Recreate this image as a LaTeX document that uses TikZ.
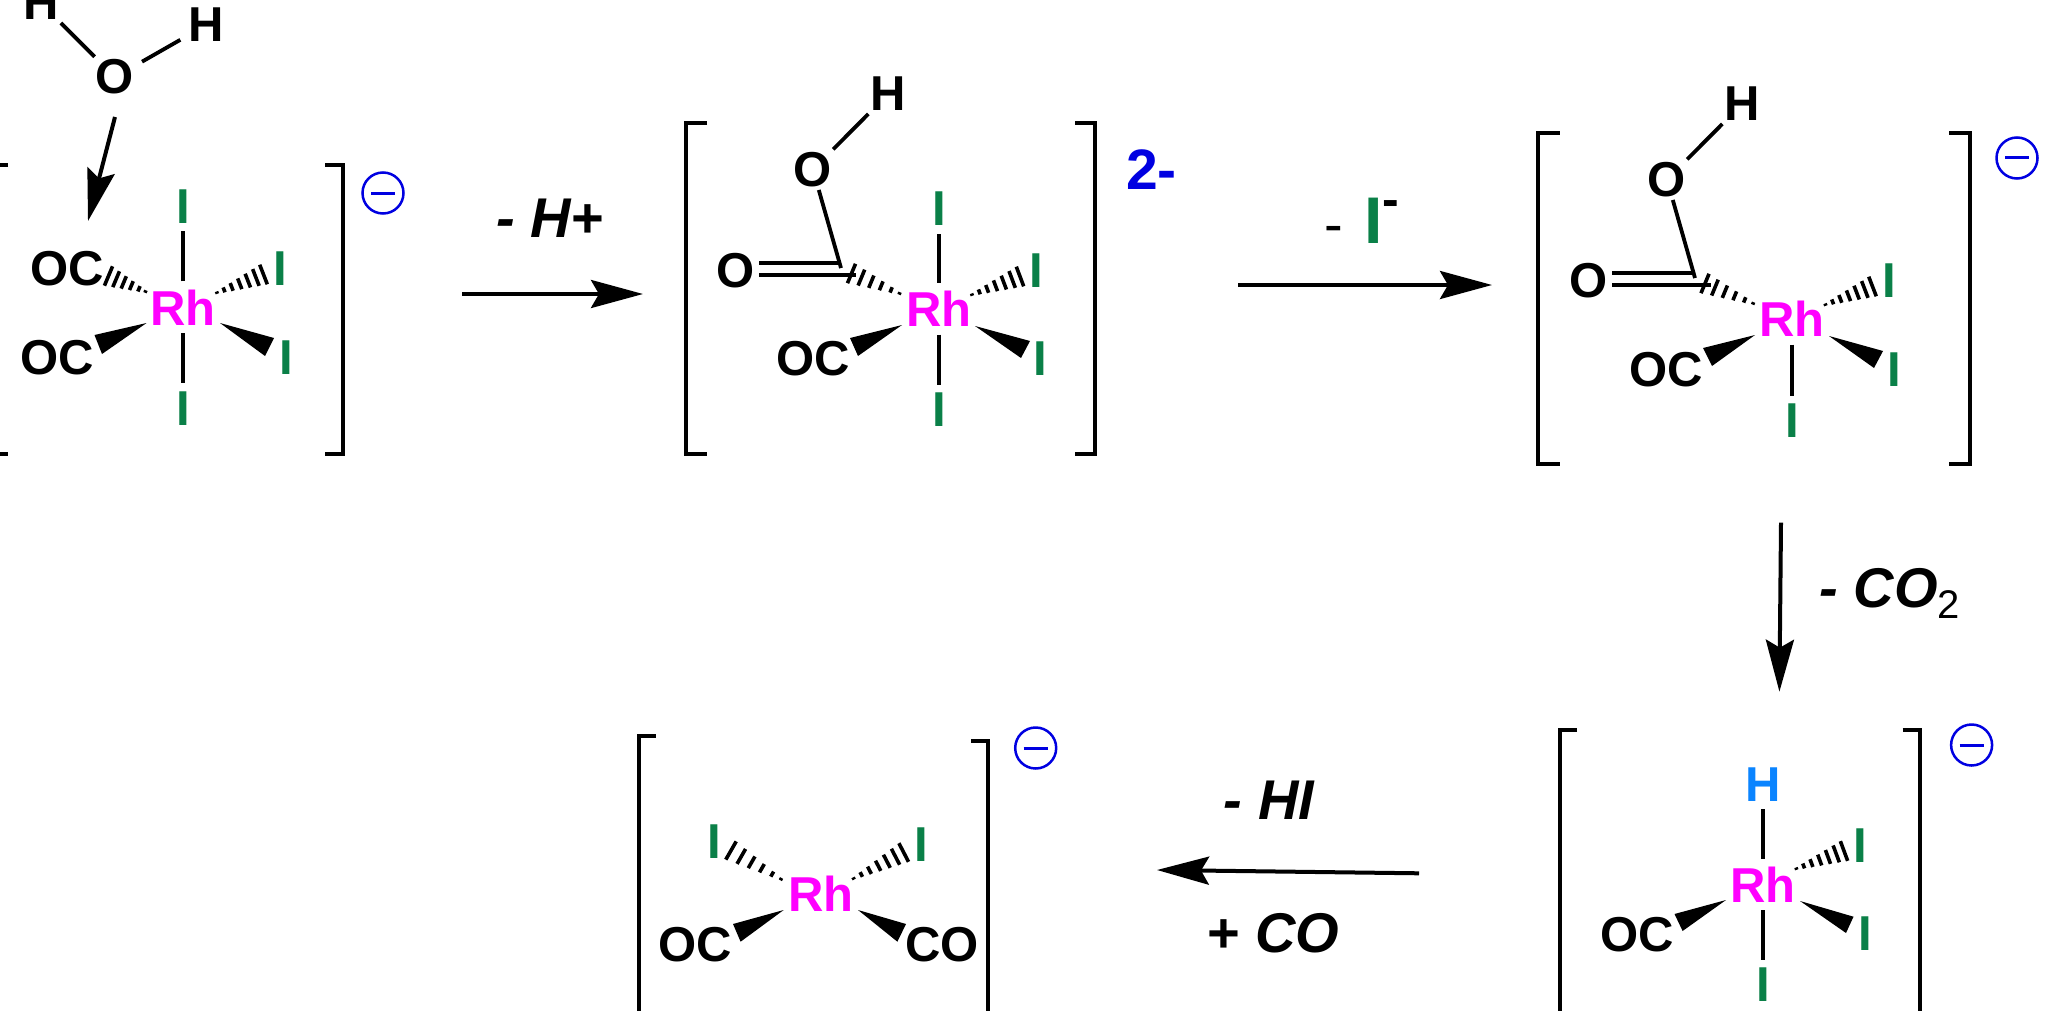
\documentclass[tikz,border=0pt]{standalone}
\usepackage{fontspec}
\setmainfont{Liberation Sans}
\usetikzlibrary{calc,arrows.meta}
\definecolor{igreen}{RGB}{10,128,72}
\definecolor{hblue}{RGB}{10,132,255}
\definecolor{cblue}{RGB}{0,0,225}
\definecolor{rhmag}{RGB}{255,0,255}
\newcommand{\hashb}[4]{%
  \coordinate (hA) at (#1);\coordinate (hB) at (#2);
  \coordinate (hC) at ($(hA)!1.5!(hB)$);
  \foreach \tt in {#4}{%
    \pgfmathsetmacro{\hh}{\tt*#3+0.5}
    \pgfmathsetmacro{\ss}{\tt/1.5}
    \draw[hashl] ($(hA)!\ss!(hC)!\hh pt!90:(hC)$) -- ($(hA)!\ss!(hC)!\hh pt!-90:(hC)$);
  }%
}
\newcommand{\chg}[3]{%
  \node[chgc] (#1) at (#2,#3) {};
  \draw[chgm] ([xshift=-6pt]#1.center) -- ([xshift=6pt]#1.center);
}
\tikzset{
  txt/.style={inner sep=0pt,outer sep=4pt,anchor=base,font=\fontsize{24.5}{24.5}\selectfont\bfseries},
  atom/.style={txt,text=black,outer xsep=4pt,outer ysep=1.5pt},
  metal/.style={txt,text=rhmag},
  iod/.style={txt,text=igreen},
  hyd/.style={txt,text=hblue},
  lab/.style={inner sep=0pt,anchor=base,font=\fontsize{28}{28}\selectfont\bfseries\itshape},
  bond/.style={draw=black,line width=1.9pt},
  hashl/.style={draw=black,line width=1.8pt},
  wedg/.style={fill=black},
  brk/.style={draw=black,line width=2pt,miter limit=10},
  rx/.style={draw=black,line width=2pt,-{Stealth[length=26pt,width=14pt,inset=4pt]}},
  chgc/.style={circle,draw=cblue,line width=1.25pt,minimum size=20.5pt,inner sep=0pt},
  chgm/.style={draw=cblue,line width=1.5pt},
}
\begin{document}
\begin{tikzpicture}[x=0.5pt,y=-0.5pt]
\useasboundingbox (0,0) rectangle (2056,1011);
\clip (0,0) rectangle (2056,1011);
\fill[white] (0,0) rectangle (2056,1011);

%% water + complex 1
\node[atom] (Ha) at (41,20) {H};
\node[atom] (Hb) at (206,42) {H};
\node[atom] (Ow) at (115,94) {O};
\draw[bond] (Ow) -- (Ha);
\draw[bond] (Ow) -- (Hb);
\coordinate (naS) at (115,117);
\coordinate (naE) at (88,221);
\draw[rx] (naS) -- (naE);
\node[metal] (Rh1) at (183,325) {Rh};
\node[iod] (I1t) at (183,223) {I};
\node[iod] (I1b) at (183,425) {I};
\node[iod] (I1u) at (280.5,285) {I};
\node[iod] (I1l) at (286,374) {I};
\node[atom] (OC1u) at (67,285.5) {OC};
\node[atom] (OC1l) at (57,374.5) {OC};
\draw[bond] (Rh1) -- (I1t);
\draw[bond] (Rh1) -- (I1b);
\hashb{146.6,292}{108.5,276}{4.75}{0.03,0.2,0.4,0.6,0.8,1}
\hashb{216,293}{263.5,274.5}{4.75}{0.02,0.17,0.33,0.5,0.67,0.84,1}
\fill[wedg] (146.6,323) -- (94.5,335) -- (102,354) -- cycle;
\fill[wedg] (220,323) -- (274,338) -- (265,356) -- cycle;
\draw[brk] (8,165) -- (-20,165) -- (-20,454) -- (8,454);
\draw[brk] (325,165) -- (342.6,165) -- (342.6,454) -- (325,454);
\chg{q1}{383}{193}

%% arrow 1
\coordinate (r1S) at (462,294);
\coordinate (r1E) at (643,294);
\draw[rx] (r1S) -- (r1E);
\node[lab] (L1) at (550,237) {- H+};

%% complex 2
\node[atom] (H2) at (888,111) {H};
\node[atom] (O2a) at (813,186.5) {O};
\node[atom] (O2b) at (736,287) {O};
\coordinate (C2) at (841,268);
\coordinate (D2a) at (759,262.7);
\coordinate (D2b) at (841,262.7);
\coordinate (D2c) at (759,275);
\coordinate (D2d) at (856,275);
\draw[bond] (O2a) -- (H2);
\draw[bond] (O2a) -- (C2);
\draw[bond] (D2a) -- (D2b);
\draw[bond] (D2c) -- (D2d);
\node[metal] (Rh2) at (939,326.5) {Rh};
\node[iod] (I2t) at (939,225.7) {I};
\node[iod] (I2b) at (939,426.7) {I};
\node[iod] (I2u) at (1036,287) {I};
\node[iod] (I2l) at (1040.5,375) {I};
\node[atom] (OC2) at (813,375.5) {OC};
\draw[bond] (Rh2) -- (I2t);
\draw[bond] (Rh2) -- (I2b);
\hashb{901,294}{851.5,273.5}{4.75}{0.03,0.2,0.4,0.6,0.8,1}
\hashb{971,295}{1020,276.5}{4.75}{0.02,0.17,0.33,0.5,0.67,0.84,1}
\fill[wedg] (902,325) -- (850,338) -- (858,356) -- cycle;
\fill[wedg] (975,326) -- (1030,341) -- (1021,358) -- cycle;
\draw[brk] (707,123) -- (686,123) -- (686,454) -- (707,454);
\draw[brk] (1075,123) -- (1095,123) -- (1095,454) -- (1075,454);
\node[lab,font=\fontsize{28.5}{28.5}\selectfont\bfseries,text=cblue] (Q2) at (1151.5,190) {2-};

%% arrow 2
\coordinate (r2S) at (1238,285);
\coordinate (r2E) at (1492,285);
\draw[rx] (r2S) -- (r2E);
\node[lab,font=\fontsize{28}{28}\selectfont] (L2a) at (1334.3,243) {-};
\node[lab,font=\fontsize{33}{33}\selectfont\bfseries,text=igreen] (L2b) at (1374,243) {I};
\node[lab,font=\fontsize{25}{25}\selectfont\bfseries] (L2c) at (1391,216.5) {-};

%% complex 3
\node[atom] (H3) at (1742,121) {H};
\node[atom] (O3a) at (1667,196.5) {O};
\node[atom] (O3b) at (1589,297) {O};
\coordinate (C3) at (1695,278);
\coordinate (D3a) at (1612,272.7);
\coordinate (D3b) at (1695,272.7);
\coordinate (D3c) at (1612,285);
\coordinate (D3d) at (1711,285);
\draw[bond] (O3a) -- (H3);
\draw[bond] (O3a) -- (C3);
\draw[bond] (D3a) -- (D3b);
\draw[bond] (D3c) -- (D3d);
\node[metal] (Rh3) at (1792,336.5) {Rh};
\node[iod] (I3b) at (1792,437.7) {I};
\node[iod] (I3u) at (1889,297) {I};
\node[iod] (I3l) at (1894.5,386) {I};
\node[atom] (OC3) at (1666,386) {OC};
\draw[bond] (Rh3) -- (I3b);
\hashb{1754.6,304}{1705,283.5}{4.75}{0.03,0.2,0.4,0.6,0.8,1}
\hashb{1824.5,305}{1872.5,286.5}{4.75}{0.02,0.17,0.33,0.5,0.67,0.84,1}
\fill[wedg] (1755,335) -- (1703,348) -- (1712,366) -- cycle;
\fill[wedg] (1829,336) -- (1883,351) -- (1874,368) -- cycle;
\draw[brk] (1559.6,133) -- (1538,133) -- (1538,464) -- (1559.6,464);
\draw[brk] (1949,133) -- (1970,133) -- (1970,464) -- (1949,464);
\chg{q3}{2017}{158}

%% arrow 3
\coordinate (r3S) at (1781,522.7);
\coordinate (r3E) at (1779.4,691.7);
\draw[rx] (r3S) -- (r3E);
\node[lab,anchor=base west] (L3) at (1819,607) {- CO\raisebox{-5.5pt}{\fontsize{20}{20}\selectfont\mdseries\upshape 2}};

%% complex 4
\node[hyd] (H4) at (1763,801) {H};
\node[metal] (Rh4) at (1763,902) {Rh};
\node[iod] (I4b) at (1763,1001.5) {I};
\node[iod] (I4u) at (1860,862) {I};
\node[iod] (I4l) at (1865,950.7) {I};
\node[atom] (OC4) at (1637.5,951) {OC};
\draw[bond] (Rh4) -- (H4);
\draw[bond] (Rh4) -- (I4b);
\hashb{1795.4,869}{1844,851}{4.75}{0.02,0.17,0.33,0.5,0.67,0.84,1}
\fill[wedg] (1726,900) -- (1674.5,914) -- (1682.6,931) -- cycle;
\fill[wedg] (1800,901) -- (1853.5,916.7) -- (1846,933) -- cycle;
\draw[brk] (1577,730) -- (1560,730) -- (1560,1040);
\draw[brk] (1902.5,730) -- (1920,730) -- (1920,1040);
\chg{q4}{1971.6}{745}

%% arrow 4
\coordinate (r4S) at (1419,873.3);
\coordinate (r4E) at (1157,870);
\draw[rx] (r4S) -- (r4E);
\node[lab] (L4a) at (1269,819) {- HI};
\node[lab] (L4b) at (1273,952) {+ CO};

%% complex 5
\node[metal] (Rh5) at (821,911.5) {Rh};
\node[iod] (I5a) at (714.5,858.7) {I};
\node[iod] (I5b) at (921.5,861.7) {I};
\node[atom] (OC5) at (695,961) {OC};
\node[atom] (CO5) at (942,961) {CO};
\hashb{782.5,880}{731,850.5}{4.75}{0.03,0.2,0.4,0.6,0.8,1}
\hashb{852.6,879}{903.7,852.5}{4.75}{0.02,0.17,0.33,0.5,0.67,0.84,1}
\fill[wedg] (783.7,910) -- (733,924) -- (740.6,941.7) -- cycle;
\fill[wedg] (858,910) -- (906,924) -- (897.4,941.7) -- cycle;
\draw[brk] (655.7,736) -- (638.5,736) -- (638.5,1040);
\draw[brk] (971,740.7) -- (987.5,740.7) -- (987.5,1040);
\chg{q5}{1035.7}{748}
\end{tikzpicture}
\end{document}
